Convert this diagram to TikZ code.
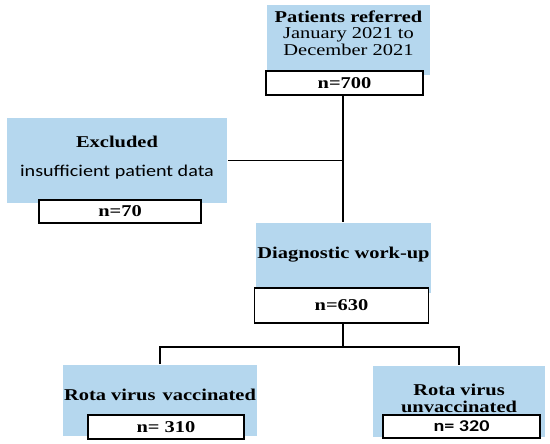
\documentclass[tikz,border=0pt]{standalone}
\usepackage{fontspec}
\setmainfont{Liberation Serif}[FakeStretch=1.24]
\newfontfamily\calibri{Carlito}[FakeStretch=1.22]
\usetikzlibrary{positioning, calc}
\definecolor{boxblue}{RGB}{181,215,238}
\tikzset{
  bluebox/.style={fill=boxblue, draw=none, inner sep=0pt},
  countbox/.style={draw, fill=white, line width=1.6pt, inner sep=0pt, font=\fontsize{16.5}{17}\selectfont\bfseries},
  boxtext/.style={align=center, inner sep=0pt},
}

\begin{document}
\begin{tikzpicture}[x=1pt,y=-1pt,font=\fontsize{16.5}{16.5}\selectfont,line width=1.6pt]
  \useasboundingbox (0,0) rectangle (550,444);
  % blue boxes
  \node[bluebox,minimum width=163pt,minimum height=70pt] (ref) at (348.5,40) {};
  \node[bluebox,minimum width=220pt,minimum height=85pt] (excl) at (117,160.5) {};
  \node[bluebox,minimum width=175pt,minimum height=70pt] (diag) at (343.5,258) {};
  \node[bluebox,minimum width=194pt,minimum height=71pt] (vacc) at (160,400.5) {};
  \node[bluebox,minimum width=172pt,minimum height=71pt] (unvacc) at (459,401.5) {};
  % texts
  \node[boxtext] (reftxt) at (348.5,33) {\textbf{Patients referred}\\January 2021 to\\December 2021};
  \node[boxtext] (excltxt) at (117,157.5) {\textbf{Excluded}\\[12.5pt]{\calibri insufficient patient data}};
  \node[boxtext,font=\fontsize{16.5}{16.5}\selectfont\bfseries] (diagtxt) at (343.5,255) {Diagnostic work-up};
  \node[boxtext,font=\fontsize{16.5}{16.5}\selectfont\bfseries] (vacctxt) at (160,395) {Rota virus\hspace{2pt} vaccinated};
  \node[boxtext,font=\fontsize{16.5}{16.5}\selectfont\bfseries] (unvacctxt) at (459,398.5) {Rota virus\\unvaccinated};
  % counts
  \node[countbox,minimum width=157pt,minimum height=24pt] (n700) at (344.5,83) {n=700};
  \node[countbox,minimum width=162pt,minimum height=23pt] (n70) at (120,211.5) {n=70};
  \node[countbox,minimum width=174pt,minimum height=35pt] (n630) at (341.5,305.5) {n=630};
  \node[countbox,minimum width=156pt,minimum height=24pt] (n310) at (166,427) {n= 310};
  \node[countbox,minimum width=157pt,minimum height=23pt,font=\fontsize{16.5}{17}\selectfont\calibri\bfseries] (n320) at (461.5,426.5) {n= 320};
  % connectors
  \coordinate (trunk) at (343,0);
  \coordinate (j1) at (trunk |- excl.east);
  \coordinate (split) at (343,347);
  \draw (trunk |- n700.south) -- (trunk |- diag.north);
  \draw (excl.east) -- (j1);
  \draw (trunk |- n630.south) -- (split);
  \draw (vacc.north) |- (split) -| (unvacc.north);
\end{tikzpicture}
\end{document}
